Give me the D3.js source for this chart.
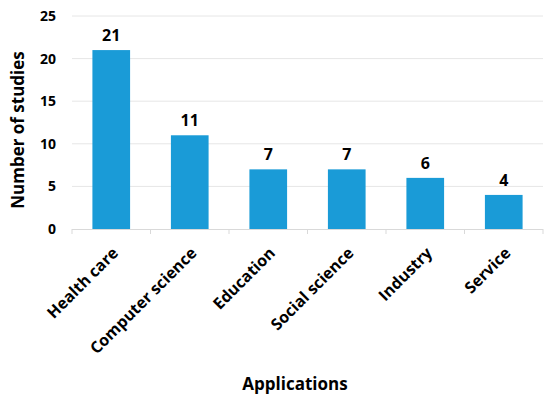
<!DOCTYPE html>
<html lang="en">
<script src="https://d3js.org/d3.v7.min.js"></script>
<style>
  body { margin: 0; background: white; }
  text { font-family: "Open Sans", "Noto Sans", sans-serif; font-weight: bold; fill: #000; }
</style>
<body>
<svg id="chart" width="550" height="404"></svg>
<script>
  var categories = ["Health care", "Computer science", "Education", "Social science", "Industry", "Service"];
  var studies = [21, 11, 7, 7, 6, 4];
  var yTicks = [0, 5, 10, 15, 20, 25];

  var svg = d3.select("#chart");
  var plotLeft = 72, plotRight = 543, plotTop = 16, plotBottom = 229;

  var x = d3.scaleBand()
      .domain(categories)
      .range([plotLeft, plotRight])
      .paddingInner(0.52)
      .paddingOuter(0.26);

  var y = d3.scaleLinear()
      .domain([0, 25])
      .range([plotBottom, plotTop]);

  // gridlines
  svg.append("g")
    .selectAll("line")
    .data(yTicks.slice(1))
    .enter()
    .append("line")
    .attr("x1", plotLeft).attr("x2", plotRight)
    .attr("y1", function(d) { return y(d); })
    .attr("y2", function(d) { return y(d); })
    .style("stroke", "#e6e6e6")
    .style("stroke-width", 1);

  // y tick labels
  svg.append("g")
    .selectAll("text")
    .data(yTicks)
    .enter()
    .append("text")
    .attr("x", plotLeft - 16)
    .attr("y", function(d) { return y(d); })
    .attr("dy", "0.35em")
    .style("text-anchor", "end")
    .style("font-size", "14px")
    .text(function(d) { return d; });

  // bars
  svg.append("g")
    .selectAll("rect")
    .data(studies)
    .enter()
    .append("rect")
    .attr("x", function(d, i) { return x(categories[i]); })
    .attr("y", function(d) { return y(d); })
    .attr("width", x.bandwidth())
    .attr("height", function(d) { return y(0) - y(d); })
    .style("fill", "#1a9bd7");

  // value labels
  svg.append("g")
    .selectAll("text")
    .data(studies)
    .enter()
    .append("text")
    .attr("x", function(d, i) { return x(categories[i]) + x.bandwidth() / 2; })
    .attr("y", function(d) { return y(d) - 9; })
    .style("text-anchor", "middle")
    .style("font-size", "16px")
    .text(function(d) { return d; });

  // x axis line + ticks
  svg.append("line")
    .attr("x1", plotLeft).attr("x2", plotRight)
    .attr("y1", plotBottom + 0.5).attr("y2", plotBottom + 0.5)
    .style("stroke", "#d9d9d9");
  svg.append("g")
    .selectAll("line")
    .data(d3.range(categories.length + 1))
    .enter()
    .append("line")
    .attr("x1", function(i) { return plotLeft + i * x.step(); })
    .attr("x2", function(i) { return plotLeft + i * x.step(); })
    .attr("y1", plotBottom).attr("y2", plotBottom + 5)
    .style("stroke", "#d9d9d9");

  // category labels
  svg.append("g")
    .selectAll("text")
    .data(categories)
    .enter()
    .append("text")
    .attr("transform", function(d) {
      return "translate(" + (x(d) + x.bandwidth() / 2 + 8) + "," + (plotBottom + 25) + ") rotate(-45)";
    })
    .style("text-anchor", "end")
    .style("font-size", "16px")
    .text(function(d) { return d; });

  // axis titles
  svg.append("text")
    .attr("x", 295)
    .attr("y", 390)
    .style("text-anchor", "middle")
    .style("font-size", "17px")
    .text("Applications");

  svg.append("text")
    .attr("transform", "translate(24,130) rotate(-90)")
    .style("text-anchor", "middle")
    .style("font-size", "17px")
    .text("Number of studies");
</script>
</body>
</html>
